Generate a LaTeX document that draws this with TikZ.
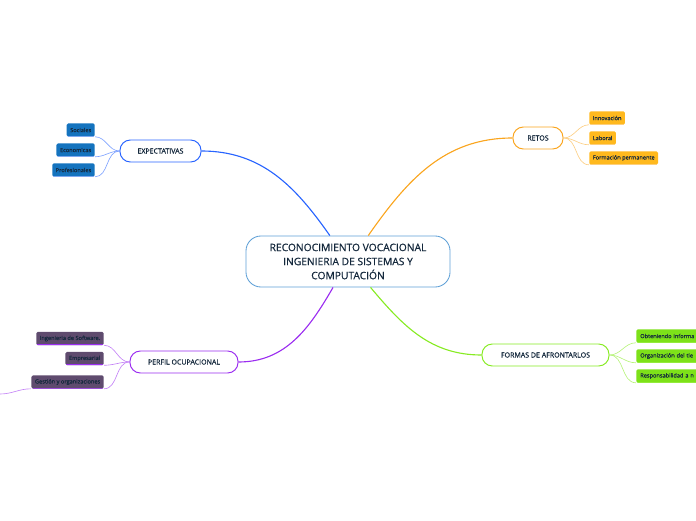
\documentclass[tikz,border=0pt]{standalone}
\usepackage{fontspec}
\setmainfont{Open Sans}[FakeBold=0.6]
\definecolor{CentroAzul}{RGB}{95,160,215}
\definecolor{TextoOscuro}{RGB}{20,40,60}
\definecolor{RamaAzul}{RGB}{40,100,255}
\definecolor{HojaAzul}{RGB}{20,115,190}
\definecolor{RamaNaranja}{RGB}{250,165,30}
\definecolor{HojaNaranja}{RGB}{255,185,30}
\definecolor{RamaMorado}{RGB}{155,45,240}
\definecolor{HojaMorado}{RGB}{95,75,110}
\definecolor{RamaVerde}{RGB}{135,235,35}
\definecolor{HojaVerde}{RGB}{125,225,25}

\begin{document}
\begin{tikzpicture}[x=0.025cm, y=0.025cm, font=\fontsize{5}{6}\selectfont]
    \tikzstyle{centro} = [rectangle, draw=CentroAzul, fill=white, text=TextoOscuro, align=center, minimum width=5.1cm, minimum height=1.275cm, rounded corners=0.375cm, line width=0.6pt, font=\fontsize{7.3}{10}\selectfont]
    \tikzstyle{rama} = [rectangle, fill=white, text=TextoOscuro, rounded corners=0.26cm, minimum height=0.55cm, line width=0.7pt]
    \tikzstyle{hoja} = [rectangle, text=TextoOscuro, rounded corners=1pt, minimum height=0.325cm, inner xsep=2.5pt, inner ysep=0pt, font=\fontsize{4}{5}\selectfont]
    \tikzset{subrayado/.style={path picture={\draw[line width=1.3pt, draw=#1] (path picture bounding box.south west) -- (path picture bounding box.south east);}}}
    \tikzstyle{tronco} = [line width=0.8pt]
    \tikzstyle{ramita} = [line width=0.45pt]

    \clip (0,0) rectangle (696,520);

    \node [centro] (centro) at (348,258.5) {RECONOCIMIENTO VOCACIONAL\\INGENIERIA DE SISTEMAS Y\\COMPUTACIÓN};

    \node [rama, draw=RamaAzul, minimum width=2.025cm] (expect) at (160.5,369) {EXPECTATIVAS};
    \node [rama, draw=RamaNaranja, minimum width=1.25cm] (retos) at (538,382) {RETOS};
    \node [rama, draw=RamaMorado, minimum width=2.7cm] (perfil) at (184,158) {PERFIL OCUPACIONAL};
    \node [rama, draw=RamaVerde, minimum width=3.175cm] (formas) at (545.5,165) {FORMAS DE AFRONTARLOS};

    \node [hoja, fill=HojaAzul, subrayado=RamaAzul, anchor=east] (sociales) at (95,390) {Sociales};
    \node [hoja, fill=HojaAzul, subrayado=RamaAzul, anchor=east] (economicas) at (95,370) {Economicas};
    \node [hoja, fill=HojaAzul, subrayado=RamaAzul, anchor=east] (profesionales) at (95,350) {Profesionales};

    \node [hoja, fill=HojaNaranja, subrayado=RamaNaranja, anchor=west] (innovacion) at (589,402) {Innovación};
    \node [hoja, fill=HojaNaranja, subrayado=RamaNaranja, anchor=west] (laboral) at (589,382) {Laboral};
    \node [hoja, fill=HojaNaranja, subrayado=RamaNaranja, anchor=west] (formacion) at (589,362) {Formación permanente};

    \node [hoja, fill=HojaMorado, subrayado=RamaMorado, anchor=east] (software) at (104,181.5) {Ingenieria de Software.};
    \node [hoja, fill=HojaMorado, subrayado=RamaMorado, anchor=east] (empresarial) at (104,161.5) {Empresarial};
    \node [hoja, fill=HojaMorado, subrayado=RamaMorado, anchor=east] (gestion) at (104,138) {Gestión y organizaciones};
    \coordinate (borde) at (0,126);

    % se salen por el borde derecho
    \node [hoja, fill=HojaVerde, subrayado=RamaVerde, anchor=west, minimum width=2.4cm, align=left, text width=2.2cm] (obteniendo) at (636,184) {Obteniendo informa};
    \node [hoja, fill=HojaVerde, subrayado=RamaVerde, anchor=west, minimum width=2.4cm, align=left, text width=2.2cm] (organizacion) at (636,164) {Organización del tie};
    \node [hoja, fill=HojaVerde, subrayado=RamaVerde, anchor=west, minimum width=2.4cm, align=left, text width=2.2cm] (responsabilidad) at (636,144) {Responsabilidad a n};

    % ramas principales
    \draw [tronco, RamaAzul] (expect.east) to[out=0, in=125] (centro.125);
    \draw [tronco, RamaNaranja] (retos.west) to[out=180, in=55] (centro.52);
    \draw [tronco, RamaMorado] (perfil.east) to[out=0, in=240] (centro.240);
    \draw [tronco, RamaVerde] (formas.west) to[out=180, in=310] (centro.311);

    % hojas
    \foreach \h in {sociales, economicas, profesionales}
        \draw [ramita, RamaAzul!60] (expect.west) to[out=180, in=0] (\h.south east);
    \foreach \h in {innovacion, laboral, formacion}
        \draw [ramita, RamaNaranja!55] (retos.east) to[out=0, in=180] (\h.south west);
    \foreach \h in {software, empresarial, gestion}
        \draw [ramita, RamaMorado!60] (perfil.west) to[out=180, in=0] (\h.south east);
    \draw [ramita, RamaMorado!60] (gestion.south west) to[out=180, in=0] (borde);
    \foreach \h in {obteniendo, organizacion, responsabilidad}
        \draw [ramita, RamaVerde!60] (formas.east) to[out=0, in=180] (\h.south west);
\end{tikzpicture}
\end{document}
